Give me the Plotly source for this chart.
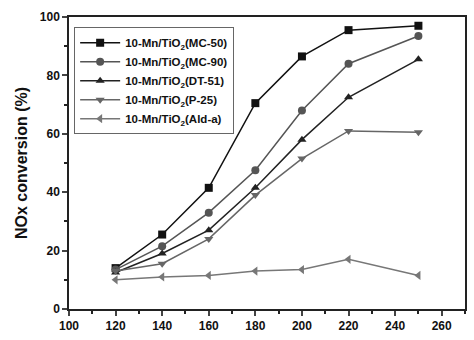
import plotly.graph_objects as go

temps = [120, 140, 160, 180, 200, 220, 250]
names = ["10-Mn/TiO<sub>2</sub>(MC-50)", "10-Mn/TiO<sub>2</sub>(MC-90)", "10-Mn/TiO<sub>2</sub>(DT-51)",
         "10-Mn/TiO<sub>2</sub>(P-25)", "10-Mn/TiO<sub>2</sub>(Ald-a)"]
mc50 = [14, 25.5, 41.5, 70.5, 86.5, 95.5, 97]
mc90 = [13.5, 21.5, 33, 47.5, 68, 84, 93.5]
dt51 = [12.5, 19, 27, 41.5, 58, 72.5, 85.5]
p25 = [13, 15.5, 24, 39, 51.5, 61, 60.5]
alda = [10, 11, 11.5, 13, 13.5, 17, 11.5]

series = [mc50, mc90, dt51, p25, alda]
colors = ["#111111", "#555555", "#222222", "#666666", "#777777"]
symbols = ["square", "circle", "triangle-up", "triangle-down", "triangle-left"]

fig = go.Figure()
for n, s, c, m in zip(names, series, colors, symbols):
    fig.add_trace(go.Scatter(x=temps, y=s, name=n, mode="lines+markers",
                             line=dict(color=c, width=1.5),
                             marker=dict(symbol=m, size=8, color=c)))

fam = "Liberation Sans, Arial"
fig.update_layout(
    width=474, height=340,
    margin=dict(l=69, r=7, t=17, b=25),
    paper_bgcolor="white", plot_bgcolor="white",
    font=dict(family=fam, size=12, color="#111", weight="bold"),
    showlegend=True,
    legend=dict(x=0.013, y=0.965, xanchor="left", yanchor="top",
                bordercolor="#666", borderwidth=1, bgcolor="white",
                font=dict(family=fam, size=11.5, color="#111", weight="bold"),
                tracegroupgap=0, itemwidth=40),
)
fig.update_xaxes(range=[100, 270], dtick=20, tick0=100, ticks="outside", ticklen=5,
                 tickwidth=1.5, showline=True, linewidth=1.5, linecolor="#222",
                 mirror=True, showgrid=False, zeroline=False,
                 minor=dict(dtick=10, ticks="outside", ticklen=3, tickcolor="#222"),
                 tickfont=dict(family=fam, size=12, color="#111", weight="bold"))
fig.update_yaxes(range=[0, 100], dtick=20, ticks="outside", ticklen=5,
                 tickwidth=1.5, showline=True, linewidth=1.5, linecolor="#222",
                 mirror=True, showgrid=False, zeroline=False,
                 minor=dict(dtick=10, ticks="outside", ticklen=3, tickcolor="#222"),
                 title=dict(text="NOx conversion (%)", font=dict(family=fam, size=16, weight="bold"), standoff=8),
                 tickfont=dict(family=fam, size=12, color="#111", weight="bold"))
fig.write_html("out.html")
